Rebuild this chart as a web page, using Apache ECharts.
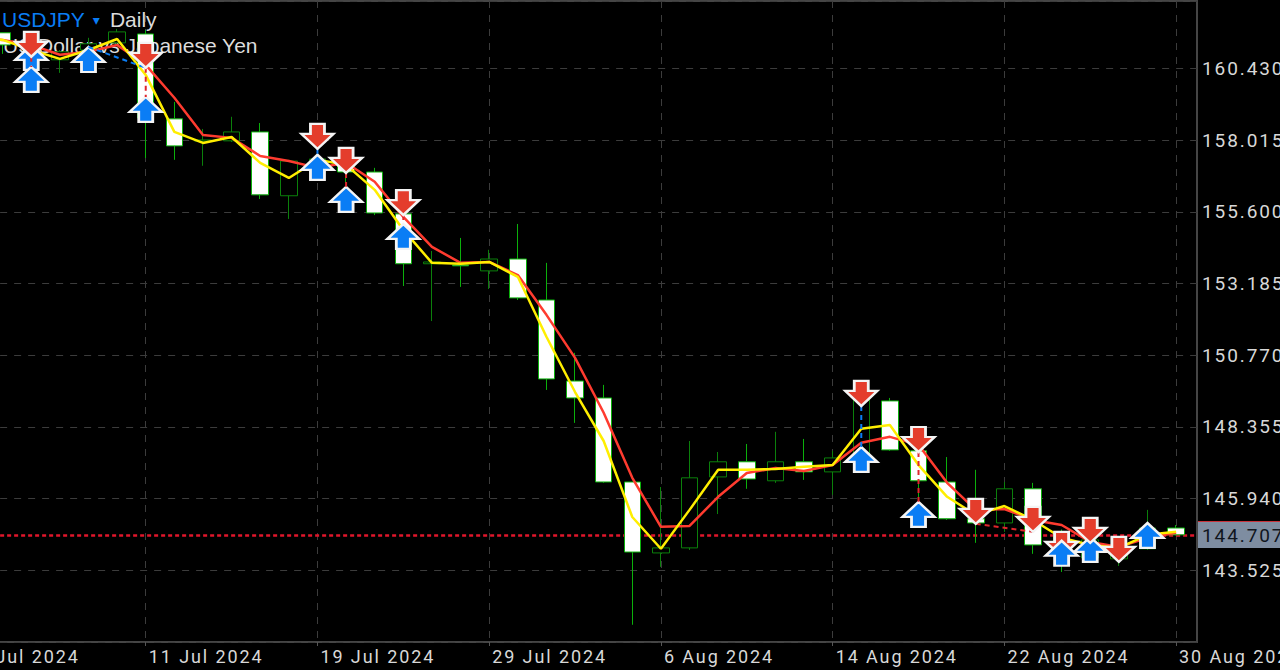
<!DOCTYPE html>
<html lang="en">
<head>
	<meta charset="UTF-8">
	<title>USDJPY Daily</title>
	<script src="https://cdn.jsdelivr.net/npm/echarts@6/dist/echarts.min.js"></script>
	<style>
		html, body { margin: 0; padding: 0; background: #000; overflow: hidden; }
		#chart_show { width: 1280px; height: 670px; }
		/* axis labels are spaced out in the terminal */
		svg text[style*="Roboto"] { letter-spacing: 1.9px; }
	</style>
</head>
<body>
	<div id="chart_show"></div>
	<script>
		// trading days, 3 Jul 2024 - 30 Aug 2024
		var categories = ['3 Jul 2024','4 Jul 2024','5 Jul 2024','8 Jul 2024','9 Jul 2024','10 Jul 2024','11 Jul 2024','12 Jul 2024','15 Jul 2024','16 Jul 2024','17 Jul 2024','18 Jul 2024','19 Jul 2024','22 Jul 2024','23 Jul 2024','24 Jul 2024','25 Jul 2024','26 Jul 2024','29 Jul 2024','30 Jul 2024','31 Jul 2024','1 Aug 2024','2 Aug 2024','5 Aug 2024','6 Aug 2024','7 Aug 2024','8 Aug 2024','9 Aug 2024','12 Aug 2024','13 Aug 2024','14 Aug 2024','15 Aug 2024','16 Aug 2024','19 Aug 2024','20 Aug 2024','21 Aug 2024','22 Aug 2024','23 Aug 2024','26 Aug 2024','27 Aug 2024','28 Aug 2024','29 Aug 2024','30 Aug 2024'];

		// open, close, low, high
		var ohlc = [
			[161.50,161.63,161.40,161.70],[161.63,161.22,160.92,161.63],[161.22,161.05,160.90,161.30],[160.72,160.99,160.28,161.05],
			[161.05,161.26,160.80,161.46],[161.29,161.66,161.22,161.76],[161.59,158.76,157.41,161.73],[158.73,157.82,157.35,159.30],
			[157.98,158.02,157.15,158.39],[157.99,158.29,157.95,158.80],[158.29,156.17,156.03,158.59],[156.14,157.31,155.36,157.35],
			[156.97,157.38,156.85,157.68],[157.35,156.94,156.57,157.42],[156.94,155.56,155.49,157.08],[155.53,153.85,153.10,155.55],
			[153.85,153.91,151.92,154.28],[153.81,153.78,153.07,154.72],[153.61,154.01,153.00,154.32],[154.01,152.70,152.63,155.19],
			[152.63,149.97,149.60,153.88],[149.90,149.33,148.49,150.85],[149.33,146.50,146.47,149.77],[146.50,144.14,141.69,146.50],
			[144.11,144.28,143.64,146.33],[144.28,146.64,144.21,147.88],[146.67,147.18,145.42,147.51],[147.18,146.60,146.27,147.78],
			[146.54,147.18,146.47,148.19],[147.18,146.84,146.57,147.95],[146.84,147.31,146.07,147.55],[147.41,149.26,147.41,149.30],
			[149.23,147.58,147.55,149.33],[147.55,146.54,145.90,147.58],[146.50,145.26,145.22,147.34],[145.26,145.12,144.45,146.91],
			[145.12,146.27,144.82,146.50],[146.27,144.38,144.08,146.47],[144.72,144.21,143.47,144.90],[143.94,144.55,143.85,144.60],
			[143.91,144.10,143.67,144.55],[144.25,144.95,144.21,145.56],[144.95,144.72,144.70,145.05]
		];

		var fastMa = [161.49,161.39,161.05,160.75,161.05,161.42,160.21,158.29,157.92,158.12,157.25,156.74,157.35,157.18,156.34,154.99,153.88,153.85,153.91,153.41,151.39,149.53,147.88,145.32,144.25,145.56,146.91,146.91,146.94,147.01,147.07,148.29,148.42,147.07,146.00,145.39,145.69,145.22,144.62,144.38,144.28,144.72,144.82];
		var slowMa = [161.46,161.39,161.22,160.89,160.99,161.22,160.55,159.44,158.19,158.09,157.48,157.31,157.08,157.25,156.61,155.43,154.42,153.88,153.91,153.47,152.13,150.68,148.83,146.64,144.99,145.02,146.00,146.80,146.97,146.87,147.07,147.82,148.02,147.75,146.47,145.56,145.59,145.22,145.05,144.48,144.31,144.62,144.79];

		// trade arrows: day index, price at the arrow tip
		var buyArrows = [[2,161.22],[2,160.48],[4,161.15],[6,159.47],[12,157.52],[13,156.44],[15,155.19],[31,147.68],[33,145.83],[39,144.65],[41,145.12]];
		var sellArrows = [[2,160.82],[6,160.45],[12,157.72],[13,156.91],[15,155.49],[31,149.06],[33,147.51],[35,145.09],[37,144.82],[38,143.98],[39,144.45],[40,143.81]];
		var buyArrowsTop = [[38,144.52]];

		// dashed links between trade arrows
		var buyLinks = [[4,161.15],[6,160.45],['-','-'],[12,157.72],[12,157.52],['-','-'],[31,149.06],[31,147.68],['-','-'],[39,144.45],[39,144.65]];
		var sellLinks = [[2,160.82],[2,160.48],['-','-'],[6,160.45],[6,159.47],['-','-'],[13,156.91],[13,156.44],['-','-'],[15,155.49],[15,155.19],['-','-'],[33,147.51],[33,145.83],['-','-'],[35,145.09],[37,144.82],['-','-'],[38,143.98],[38,144.52]];

		var priceTicks = { min: 141.11, max: 162.7, step: 2.415 };
		var lastPrice = 144.707;

		var candles = ohlc.map(function (d, i) { return [i, d[0], d[1], d[2], d[3]]; });
		var withIndex = function (v, i) { return [i, v]; };
		var labelDays = categories.map(function (c, i) { return i; }).filter(function (i) { return i % 6 === 0; });

		var upArrow = 'path://M16 0L32 15L23 15L23 25L9 25L9 15L0 15Z';
		var downArrow = 'path://M16 25L32 10L23 10L23 0L9 0L9 10L0 10Z';

		function arrows(data, isBuy, z) {
			return {
				type: 'scatter', z: z, data: data,
				symbol: isBuy ? upArrow : downArrow,
				symbolSize: [32, 25],
				symbolOffset: [0, isBuy ? '50%' : '-50%'],
				itemStyle: { color: isBuy ? '#0a7df5' : '#e43d2c', borderColor: '#f4f4f4', borderWidth: 2.5, opacity: 1 }
			};
		}

		function links(data, color) {
			return {
				type: 'line', z: 6, data: data, symbol: 'none', connectNulls: false,
				lineStyle: { color: color, width: 2, type: [5, 4] }
			};
		}

		var oChart = echarts.init(document.getElementById('chart_show'), null, { renderer: 'svg' });

		oChart.setOption({
			animation: false,
			backgroundColor: '#000',
			title: [{
				left: 2, top: 9, z: 1, padding: 0,
				text: '{a|USDJPY} {b|▾} {c|Daily}',
				textStyle: { fontWeight: 'normal', rich: {
					a: { fontFamily: 'Liberation Sans', fontSize: 21, color: '#0a7df5', fontWeight: 'normal' },
					b: { fontFamily: 'DejaVu Sans', fontSize: 14, color: '#0a7df5', padding: [0, 5, 0, 3] },
					c: { fontFamily: 'Liberation Sans', fontSize: 21, color: '#dcdcdc', fontWeight: 'normal' }
				} }
			}, {
				left: 3, top: 35, z: 1, padding: 0,
				text: 'US Dollar vs Japanese Yen',
				textStyle: { fontFamily: 'Liberation Sans', fontSize: 21, fontWeight: 'normal', color: '#dcdcdc' }
			}],
			grid: {
				show: true, left: -111.86, top: 1, right: 83, bottom: 28, outerBoundsMode: 'none',
				backgroundColor: 'transparent', borderColor: '#454545', borderWidth: 2
			},
			xAxis: {
				type: 'value', min: -3, max: 42.73, interval: 3,
				axisLine: { show: false },
				axisTick: { show: true, customValues: labelDays, length: 4, lineStyle: { color: '#555' } },
				splitLine: { show: true, lineStyle: { color: '#3c3c3c', type: [7, 7], width: 1 } },
				axisLabel: {
					color: '#d8d8d8', fontFamily: 'Roboto', fontSize: 18, align: 'left', margin: 5, padding: [0, 0, 0, 3],
					showMinLabel: false, showMaxLabel: false, hideOverlap: false,
					formatter: function (v) { return v >= 0 && v % 6 === 0 ? categories[v] : ''; }
				}
			},
			yAxis: {
				type: 'value', position: 'right', min: priceTicks.min, max: priceTicks.max, interval: priceTicks.step,
				axisLine: { show: false }, axisTick: { show: false },
				splitLine: { show: true, lineStyle: { color: '#3c3c3c', type: [7, 7], width: 1 } },
				axisLabel: {
					color: '#d8d8d8', fontFamily: 'Roboto', fontSize: 19, margin: 5,
					showMinLabel: false, showMaxLabel: false,
					formatter: function (v) { return v.toFixed(3); }
				}
			},
			series: [
				{
					type: 'line', z: 1, data: [], symbol: 'none',
					markLine: {
						z: 1, silent: true, symbol: 'none',
						lineStyle: { color: '#e0162b', width: 2.5, type: [4, 3] },
						label: {
							position: 'end', distance: 1, formatter: lastPrice.toFixed(3),
							fontFamily: 'Roboto', fontSize: 19, color: '#10161e',
							backgroundColor: '#7e8da1',
							shadowColor: '#c8303a', shadowOffsetY: -1, shadowBlur: 0,
							padding: [4, 10, 3, 4], width: 80
						},
						data: [{ yAxis: lastPrice }]
					}
				},
				{
					type: 'candlestick', z: 2, data: candles, barWidth: 17,
					itemStyle: { color: '#000', color0: '#fff', borderColor: '#0b800b', borderColor0: '#0bb00b', borderWidth: 1 }
				},
				{ type: 'line', z: 3, data: slowMa.map(withIndex), symbol: 'none', lineStyle: { color: '#ff3b2f', width: 2.5 } },
				{ type: 'line', z: 4, data: fastMa.map(withIndex), symbol: 'none', lineStyle: { color: '#ffee00', width: 2.5 } },
				arrows(buyArrows, true, 5),
				arrows(sellArrows, false, 7),
				arrows(buyArrowsTop, true, 8),
				links(buyLinks, '#0a7df5'),
				links(sellLinks, '#e0262b')
			]
		});
	</script>
</body>
</html>
